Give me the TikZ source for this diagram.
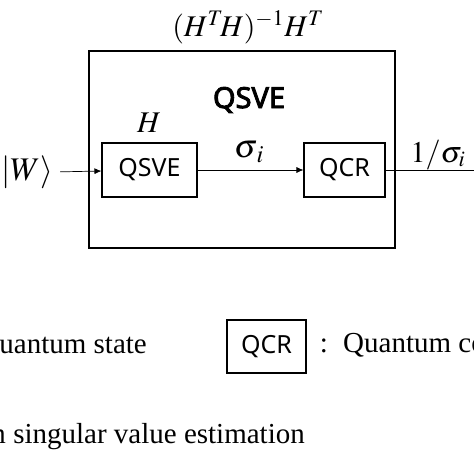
\documentclass[tikz,border=0pt]{standalone}
\usepackage{mathptmx}
\usepackage{fontspec}
\setmainfont{Liberation Serif}
\newfontfamily\qsans{Noto Sans}
\newfontfamily\qbold{Noto Sans}[FakeBold=3]
\usepackage{tikz}
\usetikzlibrary{arrows.meta}

\begin{document}
\begin{tikzpicture}[x=1pt,y=-1pt,
		blk/.style={draw, line width=1.1pt, inner sep=0pt, font=\qsans\fontsize{25}{25}\selectfont},
		big/.style={inner sep=0pt, font=\fontsize{30}{30}\selectfont},
		txt/.style={inner sep=0pt, font=\fontsize{29}{30}\selectfont},
		flow/.style={line width=0.7pt, -{Latex[length=7pt,width=6pt]}}]
		\useasboundingbox (0,0) rectangle (474,474);
		\clip (0,0) rectangle (474,474);
		\fill[white] (0,0) rectangle (474,474);
		\node[draw, line width=1.4pt, minimum width=306pt, minimum height=197pt] (outer) at (242,149.5) {};
		\node[big] (title) at (248,27) {$(H^T\!H)^{-1}H^T$};
		\node[inner sep=0pt, font=\qbold\fontsize{29}{29}\selectfont] (qtitle) at (249,100) {QSVE};
		\node[blk, minimum width=95pt, minimum height=54pt] (qsve) at (149.5,170) {QSVE};
		\node[blk, minimum width=81pt, minimum height=54pt] (qcr) at (344.5,170) {QCR};
		\node[big] (H) at (149,123) {$H$};
		\node[big, font=\fontsize{33}{33}\selectfont] (W) at (27,172) {$|W\rangle$};
		\node[big, font=\fontsize{33}{33}\selectfont] (sigma) at (249,152) {$\sigma_{\,i}$};
		\node[big] (inv) at (438,155) {$1/\sigma_i$};
		\coordinate (out) at (480,170);
		\draw[flow, shorten <=7pt] (W.east) -- (qsve);
		\draw[flow] (qsve) -- (qcr);
		\draw[line width=0.7pt] (qcr) -- (out);
		%legend
		\node[txt, anchor=base east] (lstate) at (147,353) {Quantum state};
		\node[blk, minimum width=79pt, minimum height=53pt] (lqcr) at (266.5,346.5) {QCR};
		\node[txt, anchor=base] (colon) at (324,352) {:};
		\node[txt, anchor=base west] (lrot) at (343,352) {Quantum controlled rotation};
		\node[txt, anchor=base east] (lqsve) at (305,443) {Quantum singular value estimation};
	\end{tikzpicture}
\end{document}
